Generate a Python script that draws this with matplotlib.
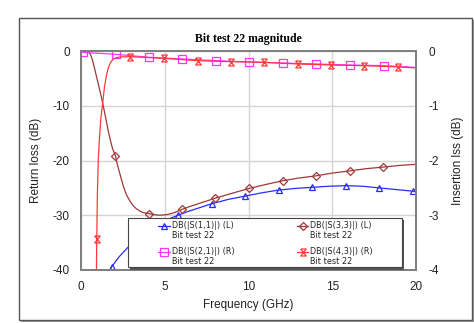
import numpy as np
import matplotlib
matplotlib.use('Agg')
import matplotlib.pyplot as plt
from matplotlib.patches import Rectangle
from matplotlib.lines import Line2D

# Return loss, left axis (dB)
freq_s11 = [1.63, 1.83, 2.3, 2.82, 3.3, 3.83, 4.3, 4.8, 5.3, 5.8, 6.3, 6.8, 7.3, 7.8, 8.8,
            9.8, 10.8, 11.8, 12.8, 13.8, 14.8, 15.8, 16.8, 17.8, 18.8, 19.8, 20.0]
s11 = [-41.0, -39.4, -37.5, -35.8, -34.4, -33.2, -32.2, -31.3, -30.6, -30.0, -29.4, -28.9, -28.4,
       -27.9, -27.1, -26.5, -25.9, -25.4, -25.1, -24.9, -24.7, -24.6, -24.7, -25.0, -25.3,
       -25.6, -25.7]
mark_s11 = [1.83, 3.83, 5.8, 7.8, 9.8, 11.8, 13.8, 15.8, 17.8, 19.8]

freq_s33 = [0.3, 0.44, 0.56, 0.68, 0.78, 0.88, 1.0, 1.1, 1.2, 1.3, 1.4, 1.5, 1.62, 1.73, 1.88,
            2.05, 2.2, 2.4, 2.55, 2.72, 2.9, 3.1, 3.3, 3.5, 3.7, 4.05, 4.4, 4.7, 5.1, 5.5,
            6.05, 6.5, 7.0, 7.5, 8.0, 9.0, 10.05, 11.0, 12.05, 13.0, 14.05, 15.0,
            16.05, 17.0, 18.05, 19.0, 20.0]
s33 = [0.0, -0.1, -0.6, -1.6, -2.8, -4.1, -5.6, -6.9, -8.2, -9.6, -11.1, -12.6, -14.5, -16.0,
       -17.8, -19.1, -21.1, -23.3, -24.9, -26.3, -27.3, -28.2, -28.8, -29.2, -29.5, -29.7,
       -29.9, -30.0, -29.9, -29.6, -28.9, -28.4, -27.9, -27.4, -26.9, -26.0, -25.1, -24.4,
       -23.7, -23.2, -22.8, -22.3, -21.9, -21.5, -21.2, -20.9, -20.7]
mark_s33 = [2.05, 4.05, 6.05, 8.0, 10.05, 12.05, 14.05, 16.05, 18.05]

# Insertion loss, right axis (dB)
freq_s21 = [0.1, 2.07, 4.06, 6.03, 8.04, 10.03, 12.06, 14.05, 16.04, 18.07, 20.0]
s21 = [-0.025, -0.06, -0.115, -0.146, -0.177, -0.2, -0.22, -0.237, -0.256, -0.268, -0.30]
mark_s21 = [0.1, 2.07, 4.06, 6.03, 8.04, 10.03, 12.06, 14.05, 16.04, 18.07]

freq_s43 = [0.92, 0.94, 0.98, 1.03, 1.1, 1.18, 1.29, 1.4, 1.53, 1.62, 1.72, 1.83, 1.93, 2.05,
            2.2, 2.5, 2.93, 4.96, 6.96, 8.96, 10.94, 12.93, 14.93, 16.91, 18.94, 20.0]
s43 = [-4.1, -3.44, -2.6, -1.99, -1.6, -1.25, -0.96, -0.66, -0.43, -0.32, -0.24, -0.18, -0.15,
       -0.13, -0.115, -0.107, -0.103, -0.134, -0.177, -0.195, -0.207, -0.237, -0.256, -0.268,
       -0.29, -0.31]
mark_s43 = [0.94, 2.93, 4.96, 6.96, 8.96, 10.94, 12.93, 14.93, 16.91, 18.94]

legend_labels = ['DB(|S(1,1)|) (L)', 'DB(|S(3,3)|) (L)', 'DB(|S(2,1)|) (R)', 'DB(|S(4,3)|) (R)']
legend_sub = 'Bit test 22'

W, H = 474, 323
fig = plt.figure(figsize=(W / 100, H / 100), dpi=100)
fig.patch.set_facecolor('white')

def fx(px):
    return px / W

def fy(py):
    return 1 - py / H

# outer frame with shadow
fig.add_artist(Rectangle((fx(21), fy(322)), fx(474) - fx(21), fy(20) - fy(322),
                         transform=fig.transFigure, facecolor='#9a9a9a', edgecolor='none', zorder=-2))
fig.add_artist(Rectangle((fx(19), fy(320)), fx(472) - fx(19), fy(18) - fy(320),
                         transform=fig.transFigure, facecolor='white', edgecolor='#555555',
                         linewidth=1.0, zorder=-1))

ax = fig.add_axes([fx(81), fy(270), fx(416) - fx(81), fy(51) - fy(270)])
ax2 = ax.twinx()

hourglass = [(-0.8, 1), (0.8, 1), (-0.8, -1), (0.8, -1), (-0.8, 1)]

styles = [
    dict(color='#2a2aff', marker='^', ms=5),
    dict(color='#a03838', marker='D', ms=4),
    dict(color='#ff33ff', marker='s', ms=5.5),
    dict(color='#ff3838', marker=hourglass, ms=5),
]

def draw(axis, f, v, marks, st):
    idx = [int(np.argmin(np.abs(np.array(f) - m))) for m in marks]
    line, = axis.plot(f, v, color=st['color'], lw=0.9, marker=st['marker'],
                      markersize=st['ms'], markerfacecolor='none',
                      markeredgecolor=st['color'], markeredgewidth=0.9, markevery=idx)
    return line

draw(ax, freq_s11, s11, mark_s11, styles[0])
draw(ax, freq_s33, s33, mark_s33, styles[1])
draw(ax2, freq_s21, s21, mark_s21, styles[2])
draw(ax2, freq_s43, s43, mark_s43, styles[3])

ax.set_xlim(0, 20)
ax.set_ylim(-40, 0)
ax2.set_ylim(-4, 0)
ax.set_xticks([0, 5, 10, 15, 20])
ax.set_yticks([0, -10, -20, -30, -40])
ax2.set_yticks([0, -1, -2, -3, -4])
ax.grid(True, color='#d4d4d4', lw=1.0)
ax.set_axisbelow(True)

tick_font = dict(family='Liberation Sans', size=8.5)
ax.set_xticklabels(['0', '5', '10', '15', '20'], **tick_font)
ax.set_yticklabels(['0', '-10', '-20', '-30', '-40'], **tick_font)
ax2.set_yticklabels(['0', '-1', '-2', '-3', '-4'], **tick_font)
ax.tick_params(axis='both', length=0, pad=8, colors='#222222')
ax2.tick_params(axis='y', length=0, pad=9, colors='#222222')

for a in (ax, ax2):
    for s in a.spines.values():
        s.set_color('#808080')
        s.set_linewidth(1.4)

ax.set_xlabel('Frequency (GHz)', fontdict=tick_font, labelpad=4, color='#222222')
ax.set_ylabel('Return loss (dB)', fontdict=tick_font, labelpad=8, color='#222222')
ax2.set_ylabel('Insertion lss (dB)', fontdict=tick_font, labelpad=9, color='#222222')

fig.text(fx(248), fy(39), 'Bit test 22 magnitude', ha='center', va='center',
         family='Liberation Serif', weight='bold', size=8.5)

# legend box
fig.add_artist(Rectangle((fx(130), fy(270)), fx(404) - fx(130), fy(220) - fy(270),
                         transform=fig.transFigure, facecolor='#555555', edgecolor='none', zorder=20))
fig.add_artist(Rectangle((fx(128), fy(267)), fx(402) - fx(128), fy(218) - fy(267),
                         transform=fig.transFigure, facecolor='white', edgecolor='#444444',
                         linewidth=0.8, zorder=21))

cols = [(158, 170, 172), (297, 308, 310)]
rows = [225.7, 251.7]
for i, (lab, st) in enumerate(zip(legend_labels, styles)):
    x0, x1, tx = cols[i % 2]
    ry = rows[i // 2]
    fig.add_artist(Line2D([fx(x0), fx(x1)], [fy(ry), fy(ry)], transform=fig.transFigure,
                          color=st['color'], lw=0.9, zorder=22))
    fig.add_artist(Line2D([fx((x0 + x1) / 2)], [fy(ry)], transform=fig.transFigure,
                          color=st['color'], marker=st['marker'], markersize=st['ms'],
                          markerfacecolor='none', markeredgewidth=0.9, zorder=22))
    fig.text(fx(tx), fy(ry), lab, ha='left', va='center', family='DejaVu Sans',
             size=5.9, color='#222222', zorder=23)
    fig.text(fx(tx), fy(ry + 10), legend_sub, ha='left', va='center', family='DejaVu Sans',
             size=5.9, color='#222222', zorder=23)

fig.savefig('out.png', dpi=100)
